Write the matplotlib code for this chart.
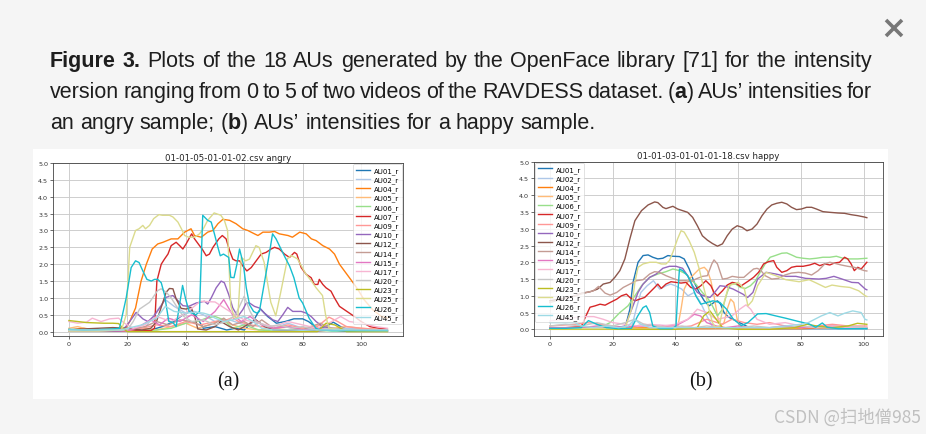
import matplotlib
matplotlib.use('Agg')
import matplotlib.pyplot as plt
from matplotlib.patches import Rectangle
from matplotlib.lines import Line2D

W, H = 926, 435

# nazwy AU w legendzie
au_names = ['AU01_r', 'AU02_r', 'AU04_r', 'AU05_r', 'AU06_r', 'AU07_r', 'AU09_r', 'AU10_r',
            'AU12_r', 'AU14_r', 'AU15_r', 'AU17_r', 'AU20_r', 'AU23_r', 'AU25_r', 'AU26_r', 'AU45_r']

# ---------------- wykres (a): angry ----------------
ang_au01_x = [0, 10, 20, 28, 32, 36, 39, 42, 44, 46, 50, 54, 57, 60, 63, 65.5, 68, 71, 74, 77, 80, 82, 85, 88, 90.5, 93, 96, 100, 109]
ang_au01_y = [0.03, 0.02, 0.03, 0.05, 0.15, 0.3, 0.5, 0.62, 0.4, 0.1, 0.15, 0.05, 0.1, 0.05, 0.3, 0.68, 0.45, 0.25, 0.3, 0.38, 0.38, 0.3, 0.1, 0.15, 0.28, 0.15, 0.05, 0.03, 0.02]
ang_au02_x = [0, 20, 26, 30, 33, 36, 40, 43, 46, 50, 55, 60, 64, 70, 75, 80, 88, 95, 109]
ang_au02_y = [0.02, 0.02, 0.1, 0.6, 0.95, 0.75, 0.55, 0.6, 0.5, 0.3, 0.35, 0.2, 0.3, 0.1, 0.25, 0.1, 0.05, 0.1, 0.05]
ang_au04_x = [0, 5, 10, 15, 18, 19, 20.8, 22.8, 24.7, 26.5, 28.5, 30.4, 32.2, 35, 37.3, 39.6, 41.8, 43, 45.3, 47.5, 49.3, 51, 52.7, 55, 57.2, 59.5, 61.2, 63.5, 64.7, 66.4, 68.6, 70.4, 72, 75, 76.5, 79, 81.2, 83, 84.6, 86.9, 89.2, 90.9, 92.6, 94.3, 96, 97.7, 98.9, 101, 104, 107, 109]
ang_au04_y = [0.05, 0.1, 0.05, 0.08, 0.05, 0.05, 0.3, 0.7, 1.5, 2.0, 2.45, 2.6, 2.65, 2.75, 2.75, 2.95, 3.05, 2.85, 2.8, 2.95, 3.0, 3.2, 3.33, 3.3, 3.2, 3.05, 3.0, 2.9, 2.85, 2.95, 2.95, 2.97, 2.9, 2.85, 2.8, 2.95, 2.9, 2.75, 2.7, 2.55, 2.45, 2.3, 2.0, 1.8, 1.6, 1.4, 1.25, 0.95, 0.65, 0.45, 0.4]
ang_au05_x = [0, 3, 6, 10, 15, 20, 25, 30, 35, 40, 44, 48, 52, 56, 60, 65, 70, 75, 80, 85, 90, 95, 100, 109]
ang_au05_y = [0.1, 0.15, 0.08, 0.05, 0.1, 0.05, 0.1, 0.05, 0.15, 0.25, 0.1, 0.2, 0.35, 0.2, 0.1, 0.05, 0.1, 0.05, 0.1, 0.2, 0.1, 0.15, 0.1, 0.05]
ang_au06_x = [0, 20, 30, 35, 40, 44, 47, 50, 53, 56, 60, 65, 70, 80, 90, 109]
ang_au06_y = [0.01, 0.01, 0.05, 0.1, 0.25, 0.3, 0.4, 0.45, 0.35, 0.1, 0.2, 0.05, 0.02, 0.05, 0.02, 0.01]
ang_au07_x = [0, 10, 20, 28, 29.3, 30.1, 31.6, 32.7, 33.9, 35, 36.7, 37.9, 39, 40.1, 42, 43, 44.7, 45.6, 47, 48.1, 49.3, 51.3, 52.5, 53.8, 55, 56.1, 57.2, 58.4, 59.5, 60.9, 62.4, 64.1, 65.8, 67.5, 69.2, 70.4, 72, 73.8, 75.5, 77.2, 78, 79.5, 81.2, 82.9, 84, 85.2, 85.7, 86.9, 88, 89.7, 90.9, 92.6, 94.3, 96, 97.7, 100, 103, 106, 109]
ang_au07_y = [0.02, 0.02, 0.02, 0.03, 0.1, 1.5, 2.0, 2.15, 2.3, 2.55, 2.65, 2.55, 2.45, 2.6, 2.9, 2.75, 2.55, 2.45, 2.25, 2.3, 2.5, 2.75, 2.85, 2.75, 2.4, 2.15, 2.1, 2.1, 1.95, 1.8, 1.9, 2.1, 2.3, 2.35, 2.45, 2.5, 2.45, 2.3, 2.2, 2.35, 2.3, 1.9, 1.7, 1.6, 1.4, 1.4, 1.55, 1.4, 1.3, 1.2, 1.0, 0.75, 0.65, 0.55, 0.45, 0.3, 0.15, 0.1, 0.08]
ang_au09_x = [0, 10, 20, 25, 30, 35, 40, 45, 50, 54, 56, 58, 62, 66, 70, 75, 80, 85, 89, 92, 95, 100, 109]
ang_au09_y = [0.05, 0.05, 0.03, 0.1, 0.2, 0.15, 0.3, 0.2, 0.3, 0.35, 0.42, 0.3, 0.2, 0.15, 0.1, 0.2, 0.1, 0.15, 0.43, 0.3, 0.15, 0.1, 0.05]
ang_au10_x = [0, 10, 18, 20, 23, 25.3, 27, 29, 31.6, 33.3, 35.6, 37.3, 39, 41, 43.6, 46.4, 47.5, 48.7, 50.4, 52.1, 53.2, 54.7, 56.1, 57.8, 59.5, 60.7, 61.8, 63.5, 65.2, 66.9, 69.8, 71.5, 73.2, 74.9, 76.6, 79.5, 81.2, 82.9, 84.6, 86.9, 90, 95, 100, 109]
ang_au10_y = [0.02, 0.02, 0.02, 0.2, 0.57, 0.38, 0.3, 0.45, 0.77, 1.02, 1.07, 0.92, 0.77, 0.75, 0.85, 0.9, 0.82, 1.0, 1.3, 1.5, 1.45, 1.1, 0.7, 0.45, 0.65, 0.85, 0.85, 0.75, 0.7, 0.55, 0.35, 0.3, 0.5, 0.72, 0.6, 0.6, 0.55, 0.45, 0.3, 0.15, 0.1, 0.05, 0.03, 0.02]
ang_au12_x = [0, 5, 10, 15, 20, 25, 28, 29.9, 31.5, 33.3, 34.4, 35.6, 36.7, 38.4, 40.1, 41.8, 43, 44.1, 47, 50, 52, 55, 58, 61, 64, 67, 70, 75, 80, 85, 90, 95, 100, 109]
ang_au12_y = [0.05, 0.08, 0.1, 0.12, 0.1, 0.05, 0.1, 0.28, 0.7, 1.17, 1.28, 1.27, 0.97, 0.69, 0.67, 0.72, 0.47, 0.08, 0.05, 0.15, 0.3, 0.15, 0.05, 0.2, 0.35, 0.15, 0.05, 0.03, 0.05, 0.02, 0.05, 0.02, 0.02, 0.01]
ang_au14_x = [0, 10, 20, 26, 30, 34, 38, 42, 46, 50, 53, 56, 60, 63, 66, 70, 75, 80, 86, 90, 95, 100, 109]
ang_au14_y = [0.05, 0.05, 0.05, 0.15, 0.3, 0.2, 0.35, 0.3, 0.15, 0.25, 0.4, 0.2, 0.3, 0.15, 0.35, 0.1, 0.15, 0.05, 0.25, 0.1, 0.05, 0.05, 0.03]
ang_au15_x = [0, 10, 20, 24, 28, 31, 34, 38, 42, 46, 50, 53, 56, 59, 62, 66, 70, 75, 80, 85, 90, 95, 100, 109]
ang_au15_y = [0.02, 0.05, 0.02, 0.15, 0.35, 0.2, 0.4, 0.3, 0.5, 0.3, 0.6, 0.95, 0.5, 0.3, 0.45, 0.2, 0.1, 0.15, 0.05, 0.1, 0.05, 0.05, 0.03, 0.02]
ang_au17_x = [0, 3, 6, 8, 11, 14, 17, 19, 22, 26, 30, 35, 40, 45, 50, 55, 60, 65, 70, 75, 80, 85, 90, 93, 96, 100, 105, 109]
ang_au17_y = [0.3, 0.25, 0.28, 0.4, 0.3, 0.38, 0.4, 0.25, 0.1, 0.2, 0.45, 0.3, 0.55, 0.9, 0.88, 0.6, 0.35, 0.25, 0.15, 0.3, 0.2, 0.1, 0.3, 0.45, 0.3, 0.25, 0.15, 0.1]
ang_au20_x = [0, 10, 20, 22, 24.2, 27.6, 30.4, 31.6, 33.3, 35, 36.7, 39, 42, 46, 50, 54, 57, 60, 62, 64, 68, 72, 76, 80, 85, 90, 95, 100, 109]
ang_au20_y = [0.02, 0.02, 0.05, 0.3, 0.67, 0.87, 1.22, 1.27, 1.17, 1.0, 0.77, 0.47, 0.3, 0.35, 0.2, 0.3, 0.5, 1.05, 0.6, 0.3, 0.15, 0.2, 0.1, 0.15, 0.05, 0.1, 0.05, 0.03, 0.02]
ang_au23_x = [0, 3, 6, 9, 12, 15, 17, 18.5, 20, 60, 70, 85, 88, 91, 95, 109]
ang_au23_y = [0.33, 0.3, 0.27, 0.26, 0.25, 0.25, 0.24, 0.1, 0.0, 0.0, 0.0, 0.0, 0.25, 0.2, 0.0, 0.0]
ang_au25_x = [0, 10, 18, 19.6, 20.8, 22.8, 24, 25.3, 26.2, 27.6, 29, 30.8, 32, 34.4, 35.6, 37.3, 38.8, 39.6, 41, 43, 44.7, 46, 47.5, 49.7, 52, 53.2, 54.3, 55.4, 56.5, 57.8, 59, 60.5, 61.8, 64, 65.1, 66.8, 69.1, 70.8, 72.5, 74.8, 76, 78.2, 81.1, 83, 84.6, 86.8, 87.9, 89, 92, 100, 109]
ang_au25_y = [0.02, 0.02, 0.05, 0.5, 2.5, 3.0, 3.05, 3.15, 3.05, 3.15, 3.35, 3.47, 3.45, 3.45, 3.4, 3.25, 3.0, 2.85, 2.8, 2.8, 2.9, 3.05, 3.3, 3.52, 3.45, 3.3, 3.0, 0.77, 0.45, 0.4, 2.2, 2.1, 2.15, 2.55, 2.5, 2.06, 0.87, 0.47, 1.17, 2.16, 2.26, 2.16, 1.71, 1.5, 1.3, 1.07, 0.47, 0.1, 0.05, 0.03, 0.02]
ang_au26_x = [0, 5, 10, 15, 17.3, 19.6, 21.3, 22.8, 24, 25.3, 26.7, 28.2, 29.3, 30.4, 31.6, 32.7, 34.2, 35.5, 36.7, 38.9, 40, 41.2, 43.5, 44.7, 45.8, 47.5, 48.7, 49.8, 51, 51.8, 52.9, 54.7, 55.4, 56.5, 57.5, 58.4, 59.7, 60.7, 61.8, 63.2, 64.3, 65.2, 66.4, 68, 69.7, 70.9, 72.3, 74, 75.5, 77, 78.8, 80, 82.2, 84.5, 86, 90, 100, 109]
ang_au26_y = [0.07, 0.05, 0.06, 0.08, 0.1, 1.0, 1.9, 2.1, 2.05, 1.8, 1.55, 1.5, 1.55, 1.55, 1.45, 1.1, 0.3, 0.28, 0.15, 1.37, 0.95, 0.58, 0.5, 0.6, 3.45, 3.3, 3.25, 2.9, 2.5, 2.25, 2.3, 2.2, 1.61, 1.6, 2.0, 2.45, 2.0, 1.3, 0.8, 0.6, 0.55, 0.6, 1.2, 2.0, 2.9, 2.75, 2.5, 2.2, 1.95, 1.6, 1.0, 0.85, 0.4, 0.1, 0.05, 0.03, 0.03, 0.03]
ang_au45_x = [0, 10, 18, 20, 25, 30, 33, 36, 40, 43, 46, 48, 50, 53, 56, 60, 63, 66, 70, 75, 80, 85, 90, 95, 100, 109]
ang_au45_y = [0.05, 0.05, 0.05, 0.1, 0.2, 0.4, 0.75, 0.6, 0.55, 0.58, 0.55, 0.5, 0.4, 0.3, 0.35, 0.45, 0.3, 0.1, 0.05, 0.05, 0.04, 0.05, 0.05, 0.05, 0.05, 0.05]

# ---------------- wykres (b): happy ----------------
hap_au01_x = [0, 10, 20, 24, 25.5, 26.5, 28.1, 29.7, 31.3, 32.8, 34.4, 36, 37.6, 39.2, 41.3, 42.8, 44.4, 46, 47.6, 49.2, 50.7, 52.3, 53.4, 54.4, 55.5, 57, 59.2, 61.3, 63.4, 70, 80, 90, 101]
hap_au01_y = [0.02, 0.02, 0.02, 0.05, 0.6, 1.4, 2.0, 2.2, 2.22, 2.15, 2.1, 2.12, 2.2, 2.18, 2.17, 2.1, 1.8, 1.4, 1.1, 0.85, 0.7, 0.8, 0.85, 0.75, 0.5, 0.36, 0.26, 0.16, 0.06, 0.02, 0.02, 0.02, 0.02]
hap_au02_x = [0, 10, 20, 26, 27.5, 29, 31, 33, 35, 37, 38.5, 40, 42, 44, 46, 48, 50, 52, 60, 70, 80, 90, 101]
hap_au02_y = [0.03, 0.02, 0.02, 0.05, 0.6, 1.1, 1.3, 1.45, 1.2, 1.3, 1.35, 1.3, 1.2, 1.0, 1.1, 0.8, 0.4, 0.05, 0.02, 0.02, 0.02, 0.02, 0.02]
hap_au04_x = [0, 10, 20, 30, 40, 50, 60, 70, 80, 90, 101]
hap_au04_y = [0.02, 0.03, 0.02, 0.05, 0.02, 0.02, 0.03, 0.02, 0.02, 0.05, 0.03]
hap_au05_x = [0, 10, 20, 30, 40, 40.8, 41.8, 42.8, 44.4, 46, 47.6, 49.2, 50.2, 51.3, 52.3, 53.4, 54.4, 55.5, 56.5, 57.6, 58.6, 59.7, 60.7, 70, 80, 90, 101]
hap_au05_y = [0.02, 0.05, 0.02, 0.03, 0.02, 0.1, 0.6, 1.2, 1.5, 1.65, 1.8, 1.85, 1.75, 1.45, 1.0, 0.4, 0.1, 0.2, 0.6, 0.9, 0.8, 0.3, 0.05, 0.02, 0.05, 0.1, 0.05]
hap_au06_x = [0, 10, 17, 19.2, 22.3, 24.9, 27.1, 29.2, 31.8, 34.4, 37, 39.2, 41.3, 43.4, 44.9, 46.5, 48.6, 50.5, 51.8, 53.4, 55, 56.5, 57.6, 59.2, 60.7, 62.3, 63.9, 65.5, 67, 68.6, 70.2, 71.8, 73.9, 75.5, 77, 78.6, 80.7, 82.8, 84.9, 87, 89.2, 91.3, 93.4, 95.5, 98.1, 101]
hap_au06_y = [0.02, 0.03, 0.1, 0.2, 0.5, 0.7, 1.0, 1.3, 1.55, 1.65, 1.72, 1.8, 1.75, 1.65, 1.48, 1.35, 1.1, 0.9, 0.7, 0.4, 0.6, 1.1, 1.35, 1.35, 1.25, 1.22, 1.3, 1.45, 1.7, 1.95, 2.15, 2.2, 2.27, 2.28, 2.22, 2.15, 2.12, 2.1, 2.12, 2.15, 2.15, 2.18, 2.12, 2.1, 2.1, 2.12]
hap_au07_x = [0, 5, 10, 11.3, 12.8, 14.4, 16, 17.6, 19.2, 21.3, 22.8, 24.4, 25.5, 27.1, 28.6, 30.2, 31.8, 33.4, 34.4, 35.5, 37, 38.6, 40.2, 41.8, 43.4, 44.9, 46.5, 48.1, 49.7, 51.3, 52.3, 53.4, 55, 56.5, 58.1, 59.2, 60.7, 61.8, 63.4, 64.9, 66.5, 68.1, 69.7, 71.3, 72.3, 73.9, 75.5, 77, 78.6, 80.7, 82.8, 84.4, 86, 87.6, 89.2, 90.7, 92.3, 93.9, 94.9, 96, 97, 98.1, 99.2, 101]
hap_au07_y = [0.05, 0.05, 0.08, 0.36, 0.66, 0.7, 0.75, 0.72, 0.8, 0.9, 1.0, 1.05, 0.95, 0.85, 0.9, 0.95, 1.1, 1.25, 1.35, 1.22, 1.35, 1.42, 1.4, 1.38, 1.4, 1.25, 1.2, 1.3, 1.45, 1.3, 1.1, 1.0, 1.15, 1.32, 1.4, 1.38, 1.28, 1.35, 1.45, 1.55, 1.7, 1.95, 2.02, 2.05, 1.85, 1.7, 1.75, 1.85, 1.88, 1.88, 1.92, 1.97, 1.9, 1.95, 1.92, 1.98, 2.0, 2.15, 2.1, 1.95, 1.75, 1.85, 1.8, 2.0]
hap_au09_x = [0, 8, 12, 16, 20, 25, 30, 35, 40, 45, 50, 55, 58, 62, 66, 70, 75, 80, 85, 90, 95, 101]
hap_au09_y = [0.1, 0.15, 0.2, 0.15, 0.1, 0.05, 0.15, 0.1, 0.05, 0.1, 0.3, 0.15, 0.3, 0.2, 0.15, 0.2, 0.1, 0.05, 0.1, 0.15, 0.1, 0.1]
hap_au10_x = [0, 10, 20, 24, 26.5, 28.1, 29.7, 31.8, 33.9, 36, 38.1, 40.2, 42.3, 43.9, 45.5, 47, 49, 51, 52.5, 54.2, 56, 58.4, 61.5, 63, 64.7, 66.2, 68.9, 72, 75.2, 78.4, 81.5, 85.7, 88, 90.5, 93.1, 96.2, 98.3, 100.5, 101]
hap_au10_y = [0.02, 0.02, 0.03, 0.1, 0.7, 1.1, 1.35, 1.55, 1.65, 1.82, 1.88, 1.88, 1.82, 1.6, 1.3, 1.1, 1.0, 0.95, 1.1, 1.3, 1.28, 1.2, 1.05, 0.95, 1.1, 1.5, 1.7, 1.65, 1.58, 1.58, 1.52, 1.5, 1.52, 1.58, 1.5, 1.4, 1.39, 1.2, 1.18]
hap_au12_x = [0, 3, 6, 8, 10.2, 12.8, 15.2, 17, 19.2, 20.7, 22.3, 23.9, 25.5, 27.1, 29.2, 31.3, 33.4, 34.4, 36, 37, 39.2, 40.7, 42.3, 43.9, 45.5, 47, 48.6, 50.2, 51.8, 53.4, 55, 56.5, 58.1, 59.7, 61.3, 62.8, 64.4, 66, 67.6, 69.2, 70.7, 72.3, 73.9, 75.5, 77, 78.6, 80.2, 81.8, 83.4, 84.9, 87, 89.2, 91.8, 93.9, 96, 98.1, 100.2, 101]
hap_au12_y = [0.85, 0.9, 0.95, 1.0, 1.08, 1.12, 1.2, 1.35, 1.4, 1.55, 1.75, 2.1, 2.7, 3.24, 3.54, 3.71, 3.8, 3.78, 3.64, 3.6, 3.67, 3.59, 3.54, 3.49, 3.34, 3.09, 2.79, 2.66, 2.56, 2.48, 2.55, 2.79, 2.99, 3.09, 3.04, 2.94, 2.99, 3.14, 3.39, 3.59, 3.71, 3.76, 3.79, 3.74, 3.64, 3.57, 3.59, 3.64, 3.64, 3.59, 3.51, 3.49, 3.47, 3.46, 3.42, 3.39, 3.35, 3.33]
hap_au14_x = [0, 4, 8, 11, 13.9, 15.5, 17.6, 19.2, 21.3, 23.4, 25.5, 27.6, 29.7, 31.8, 33.4, 34.9, 37, 39.2, 41.3, 43.4, 44.9, 46.5, 48.6, 50.2, 51.6, 52.3, 53.4, 55, 56.5, 58.1, 60.2, 61.8, 63.4, 64.9, 66, 67, 68.6, 70.7, 72.8, 74.9, 77, 79.2, 81.3, 83.4, 85.5, 87.6, 89.2, 90.7, 92.8, 94.9, 97, 100.2, 101]
hap_au14_y = [0.8, 0.9, 1.0, 1.08, 1.15, 1.28, 1.08, 1.02, 1.1, 1.25, 1.35, 1.45, 1.48, 1.65, 1.72, 1.7, 1.6, 1.52, 1.45, 1.45, 1.42, 1.5, 1.58, 1.6, 1.95, 2.07, 1.95, 1.5, 1.52, 1.58, 1.55, 1.55, 1.68, 1.8, 1.82, 1.78, 1.6, 1.5, 1.52, 1.62, 1.68, 1.7, 1.68, 1.62, 1.75, 1.95, 2.0, 1.97, 1.92, 1.88, 1.85, 1.75, 1.74]
hap_au15_x = [0, 10, 15, 20, 25, 30, 35, 40, 44, 46, 48, 50, 53, 56, 60, 65, 70, 75, 80, 85, 90, 95, 101]
hap_au15_y = [0.05, 0.05, 0.1, 0.05, 0.08, 0.1, 0.12, 0.1, 0.3, 0.45, 0.4, 0.2, 0.1, 0.05, 0.1, 0.05, 0.05, 0.1, 0.05, 0.05, 0.1, 0.05, 0.05]
hap_au17_x = [0, 4, 8, 11, 14, 17, 20, 24, 28, 32, 36, 40, 44, 47, 50, 53, 56, 58, 60.5, 62.5, 64, 66, 70, 75, 80, 85, 90, 95, 101]
hap_au17_y = [0.25, 0.3, 0.35, 0.38, 0.38, 0.3, 0.2, 0.15, 0.1, 0.15, 0.1, 0.15, 0.3, 0.6, 0.5, 0.3, 0.35, 0.4, 0.6, 0.73, 0.6, 0.3, 0.15, 0.2, 0.1, 0.05, 0.1, 0.05, 0.05]
hap_au20_x = [0, 5, 10, 15, 20, 24, 27, 30, 34, 38, 42, 46, 50, 55, 60, 65, 70, 75, 80, 85, 90, 95, 101]
hap_au20_y = [0.1, 0.15, 0.1, 0.2, 0.1, 0.2, 0.3, 0.15, 0.1, 0.05, 0.1, 0.05, 0.1, 0.05, 0.05, 0.1, 0.05, 0.05, 0.1, 0.05, 0.05, 0.1, 0.05]
hap_au23_x = [0, 20, 40, 47, 49, 51, 53, 55, 60, 70, 78, 82, 85, 90, 95, 98, 101]
hap_au23_y = [0.0, 0.0, 0.0, 0.05, 0.4, 0.55, 0.3, 0.05, 0.0, 0.0, 0.05, 0.15, 0.1, 0.05, 0.1, 0.18, 0.15]
hap_au25_x = [0, 10, 20, 24, 26, 27.1, 28.1, 29.7, 31.8, 33.9, 35.5, 37, 38.1, 39.2, 40.7, 41.8, 42.8, 44.4, 46, 47.6, 48.6, 49.7, 50.7, 51.8, 52.8, 54, 55.5, 57, 60, 62, 63.1, 64.5, 66.2, 68.9, 72, 75.2, 79.4, 82.6, 84.7, 87.8, 89.9, 92.5, 95.6, 98.4, 100.5, 101]
hap_au25_y = [0.02, 0.02, 0.02, 0.05, 0.6, 1.4, 1.85, 1.95, 2.0, 2.0, 1.95, 1.95, 2.05, 2.3, 2.7, 2.94, 2.9, 2.64, 2.3, 1.8, 1.4, 1.0, 0.6, 0.2, 0.05, 0.1, 0.8, 1.3, 1.4, 1.2, 0.7, 0.85, 1.3, 1.7, 1.6, 1.48, 1.42, 1.48, 1.39, 1.25, 1.32, 1.28, 1.25, 1.15, 1.0, 0.98]
hap_au26_x = [0, 5, 10, 12.3, 15, 18, 22, 26, 28, 29.7, 30.7, 31.8, 32.8, 35, 39, 40.2, 40.7, 41.3, 42.3, 43.9, 44.9, 46.5, 48.1, 50, 52, 54.2, 56.3, 58.4, 61, 63.1, 66.2, 68.9, 72, 75.2, 79.4, 82.6, 84.7, 86.8, 88.4, 92, 101]
hap_au26_y = [0.03, 0.03, 0.05, 0.26, 0.15, 0.05, 0.02, 0.03, 0.4, 0.65, 0.7, 0.5, 0.1, 0.02, 0.02, 0.1, 1.0, 1.8, 1.75, 1.6, 1.4, 1.0, 0.75, 0.8, 0.85, 0.8, 0.6, 0.31, 0.11, 0.2, 0.46, 0.47, 0.4, 0.33, 0.23, 0.16, 0.06, 0.19, 0.06, 0.02, 0.02]
hap_au45_x = [0, 4, 8, 10, 14, 18, 22, 25, 27, 29, 32, 36, 40, 45, 50, 55, 60, 65, 70, 75, 80, 82.3, 86.5, 89.2, 91.8, 93.9, 96.5, 99.2, 100.4, 101]
hap_au45_y = [0.2, 0.2, 0.2, 0.1, 0.05, 0.1, 0.05, 0.1, 0.3, 0.15, 0.05, 0.05, 0.05, 0.05, 0.05, 0.05, 0.05, 0.05, 0.05, 0.1, 0.15, 0.2, 0.4, 0.5, 0.4, 0.48, 0.55, 0.5, 0.3, 0.28]

angry_series = [(ang_au01_x, ang_au01_y), (ang_au02_x, ang_au02_y), (ang_au04_x, ang_au04_y),
                (ang_au05_x, ang_au05_y), (ang_au06_x, ang_au06_y), (ang_au07_x, ang_au07_y),
                (ang_au09_x, ang_au09_y), (ang_au10_x, ang_au10_y), (ang_au12_x, ang_au12_y),
                (ang_au14_x, ang_au14_y), (ang_au15_x, ang_au15_y), (ang_au17_x, ang_au17_y),
                (ang_au20_x, ang_au20_y), (ang_au23_x, ang_au23_y), (ang_au25_x, ang_au25_y),
                (ang_au26_x, ang_au26_y), (ang_au45_x, ang_au45_y)]
happy_series = [(hap_au01_x, hap_au01_y), (hap_au02_x, hap_au02_y), (hap_au04_x, hap_au04_y),
                (hap_au05_x, hap_au05_y), (hap_au06_x, hap_au06_y), (hap_au07_x, hap_au07_y),
                (hap_au09_x, hap_au09_y), (hap_au10_x, hap_au10_y), (hap_au12_x, hap_au12_y),
                (hap_au14_x, hap_au14_y), (hap_au15_x, hap_au15_y), (hap_au17_x, hap_au17_y),
                (hap_au20_x, hap_au20_y), (hap_au23_x, hap_au23_y), (hap_au25_x, hap_au25_y),
                (hap_au26_x, hap_au26_y), (hap_au45_x, hap_au45_y)]

y_ticks = [0.0, 0.5, 1.0, 1.5, 2.0, 2.5, 3.0, 3.5, 4.0, 4.5, 5.0]
x_ticks = [0, 20, 40, 60, 80, 100]

# kolory tab20 (bez kilku odcieni)
tab = plt.get_cmap('tab20').colors
colors = [tab[i] for i in [0, 1, 2, 3, 5, 6, 7, 8, 10, 11, 12, 13, 15, 16, 17, 18, 19]]

fig = plt.figure(figsize=(W / 100, H / 100), dpi=100)
fig.patch.set_facecolor('#f5f5f5')
fig.add_artist(Rectangle((33 / W, 1 - 400 / H), 855 / W, 250 / H, transform=fig.transFigure,
                         facecolor='white', edgecolor='none', zorder=-1))


def px(x0, y0, x1, y1):
    return [x0 / W, 1 - y1 / H, (x1 - x0) / W, (y1 - y0) / H]


def rysuj(ax, series, title, xlim, ylim, loc):
    for (xs, ys), c, name in zip(series, colors, au_names):
        ax.plot(xs, ys, color=c, lw=1.0, label=name)
    ax.set_xlim(*xlim)
    ax.set_ylim(*ylim)
    ax.set_xticks(x_ticks)
    ax.set_yticks(y_ticks)
    ax.set_yticklabels(['%.1f' % v for v in y_ticks])
    ax.tick_params(labelsize=4.6, length=2, width=0.5, pad=1.5, colors='#333333')
    ax.grid(True, color='#cbcbcb', lw=0.65)
    ax.set_axisbelow(True)
    for s in ax.spines.values():
        s.set_linewidth(0.6)
        s.set_color('#444444')
    ax.set_title(title, fontsize=6.2, pad=2.5, color='#222222')
    leg = ax.legend(loc=loc, fontsize=5.0, labelspacing=0.35, handlelength=2.0,
                    handletextpad=0.6, borderpad=0.4, borderaxespad=0.2)
    leg.get_frame().set_linewidth(0.5)
    leg.get_frame().set_edgecolor('#cccccc')


ax1 = fig.add_axes(px(53, 164, 403.3, 336.7))
rysuj(ax1, angry_series, '01-01-05-01-01-02.csv angry', (-5.45, 114.45), (-0.12, 5.0), 'upper right')
ax2 = fig.add_axes(px(534, 162.7, 882.7, 336.7))
rysuj(ax2, happy_series, '01-01-03-01-01-01-18.csv happy', (-5.05, 106.05), (-0.19, 5.0), 'upper left')

# podpis (wyjustowany)
cap_fs = 15.5
cap_col = '#1e1e1e'
line1 = [[('Figure', True)], [('3.', True)], [('Plots', False)], [('of', False)], [('the', False)],
         [('18', False)], [('AUs', False)], [('generated', False)], [('by', False)], [('the', False)],
         [('OpenFace', False)], [('library', False)], [('[71]', False)], [('for', False)],
         [('the', False)], [('intensity', False)]]
line2 = [[(w, False)] for w in 'version ranging from 0 to 5 of two videos of the RAVDESS dataset.'.split()]
line2 += [[('(', False), ('a', True), (')', False)], [('AUs’', False)], [('intensities', False)], [('for', False)]]
line3 = [[('an', False)], [('angry', False)], [('sample;', False)], [('(', False), ('b', True), (')', False)]]
line3 += [[(w, False)] for w in 'AUs’ intensities for a happy sample.'.split()]

renderer = fig.canvas.get_renderer()


def linia(words, y, x0=50, x1=872, justify=True):
    items = []
    for w in words:
        parts = []
        tot = 0
        for txt, bold in w:
            t = fig.text(0, 0, txt, fontsize=cap_fs, fontweight='bold' if bold else 'normal',
                         family='Liberation Sans', color=cap_col, va='baseline')
            wd = t.get_window_extent(renderer).width
            parts.append((t, wd))
            tot += wd
        items.append((parts, tot))
    total = sum(tw for _, tw in items)
    gap = (x1 - x0 - total) / (len(items) - 1) if justify else 0.278 * cap_fs * 100 / 72
    x = x0
    for parts, tw in items:
        for t, wd in parts:
            t.set_position((x / W, 1 - y / H))
            x += wd
        x += gap


linia(line1, 67)
linia(line2, 98)
linia(line3, 129, justify=False)

fig.text(228 / W, 1 - 382 / H, '(a)', fontsize=14.5, family='Liberation Serif', ha='center', va='center', color='#111111')
fig.text(701 / W, 1 - 382 / H, '(b)', fontsize=14.5, family='Liberation Serif', ha='center', va='center', color='#111111')

fig.text(921 / W, 1 - 418 / H, 'CSDN @扫地僧985', fontsize=12.5, family=['Noto Sans CJK SC', 'DejaVu Sans'],
         ha='right', va='center', color='#c0c0c0')

# przycisk zamkniecia
for (xa, ya, xb, yb) in [(886, 21, 902, 37), (886, 37, 902, 21)]:
    fig.add_artist(Line2D([xa / W, xb / W], [1 - ya / H, 1 - yb / H], transform=fig.transFigure,
                          color='#777777', lw=2.6, solid_capstyle='butt'))

fig.savefig('out.png', dpi=100, facecolor=fig.get_facecolor())
